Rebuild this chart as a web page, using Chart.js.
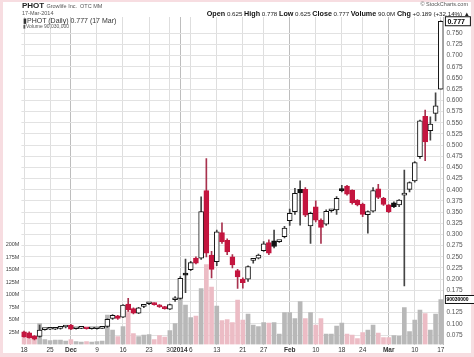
<!DOCTYPE html>
<html><head><meta charset="utf-8">
<script src="https://cdn.jsdelivr.net/npm/chart.js@4.4.1/dist/chart.umd.min.js"></script>
<style>
html,body{margin:0;padding:0;background:#f7dde1;}
#wrap{position:relative;width:474px;height:357px;overflow:hidden;}
#paper{position:absolute;left:3px;top:2px;width:468px;height:351px;background:#fff;}
canvas{position:absolute;left:0;top:0;}
.t{position:absolute;font-family:"Liberation Sans",Arial,sans-serif;white-space:nowrap;color:#222;line-height:1;}
.t b{font-weight:bold;color:#111;}
.s{color:#555;font-weight:normal;}
</style></head><body>
<div id="wrap">
<div id="paper"></div>
<canvas id="c" width="474" height="357"></canvas>
<div class="t" style="left:22px;top:2px;font-size:8px;font-weight:bold">PHOT <span class="s" style="font-size:5.5px">Growlife Inc.&nbsp; OTC MM</span></div>
<div class="t s" style="left:22px;top:11px;font-size:5.5px">17-Mar-2014</div>
<div class="t s" style="right:6px;top:2px;font-size:5.5px">© StockCharts.com</div>
<div class="t" id="hdr" style="right:4px;top:10px;font-size:6.2px"></div>
<div class="t" id="leg1" style="left:23px;top:17px;font-size:7px;color:#333"></div>
<div class="t" id="leg2" style="left:23px;top:24px;font-size:5px;color:#555"></div>
</div>
<script>
const dates = ["2013-11-18","2013-11-19","2013-11-20","2013-11-21","2013-11-22","2013-11-25","2013-11-26","2013-11-27","2013-11-29",
"2013-12-02","2013-12-03","2013-12-04","2013-12-05","2013-12-06","2013-12-09","2013-12-10","2013-12-11","2013-12-12","2013-12-13",
"2013-12-16","2013-12-17","2013-12-18","2013-12-19","2013-12-20","2013-12-23","2013-12-24","2013-12-26","2013-12-27","2013-12-30","2013-12-31",
"2014-01-02","2014-01-03","2014-01-06","2014-01-07","2014-01-08","2014-01-09","2014-01-10","2014-01-13","2014-01-14","2014-01-15","2014-01-16","2014-01-17",
"2014-01-21","2014-01-22","2014-01-23","2014-01-24","2014-01-27","2014-01-28","2014-01-29","2014-01-30","2014-01-31",
"2014-02-03","2014-02-04","2014-02-05","2014-02-06","2014-02-07","2014-02-10","2014-02-11","2014-02-12","2014-02-13","2014-02-14",
"2014-02-18","2014-02-19","2014-02-20","2014-02-21","2014-02-24","2014-02-25","2014-02-26","2014-02-27","2014-02-28",
"2014-03-03","2014-03-04","2014-03-05","2014-03-06","2014-03-07","2014-03-10","2014-03-11","2014-03-12","2014-03-13","2014-03-14","2014-03-17"];

const opens  = [0.082,0.080,0.073,0.072,0.087,0.088,0.088,0.090,0.093,0.097,0.089,0.090,0.090,0.089,0.089,0.090,0.094,0.112,0.118,0.115,
0.144,0.134,0.124,0.139,0.145,0.146,0.142,0.138,0.133,0.154,0.157,0.210,0.221,0.247,0.247,0.398,0.254,0.239,0.304,0.287,
0.250,0.219,0.200,0.200,0.242,0.247,0.264,0.282,0.286,0.284,0.295,0.331,0.351,0.401,0.401,0.319,0.362,0.332,0.323,0.353,
0.355,0.401,0.408,0.399,0.377,0.368,0.344,0.352,0.402,0.381,0.366,0.371,0.366,0.388,0.401,0.420,0.474,0.564,0.532,0.571,0.625];
const highs  = [0.084,0.082,0.074,0.097,0.089,0.089,0.090,0.093,0.095,0.099,0.091,0.091,0.090,0.090,0.092,0.092,0.111,0.121,0.119,0.143,
0.157,0.136,0.137,0.142,0.148,0.147,0.143,0.139,0.144,0.161,0.206,0.245,0.240,0.250,0.384,0.470,0.262,0.310,0.326,0.290,
0.255,0.222,0.203,0.230,0.246,0.256,0.284,0.288,0.310,0.286,0.318,0.357,0.403,0.420,0.405,0.350,0.375,0.335,0.355,0.356,
0.385,0.410,0.410,0.400,0.378,0.370,0.353,0.405,0.412,0.383,0.367,0.373,0.378,0.444,0.418,0.463,0.556,0.578,0.563,0.617,0.778];
const lows   = [0.070,0.068,0.064,0.070,0.086,0.087,0.087,0.088,0.091,0.087,0.088,0.089,0.088,0.088,0.088,0.090,0.092,0.110,0.110,0.114,
0.128,0.122,0.123,0.136,0.143,0.142,0.137,0.133,0.132,0.150,0.155,0.170,0.219,0.234,0.244,0.250,0.203,0.230,0.280,0.255,
0.225,0.179,0.180,0.195,0.236,0.245,0.262,0.255,0.270,0.282,0.292,0.320,0.345,0.321,0.340,0.280,0.328,0.280,0.320,0.350,
0.345,0.395,0.388,0.368,0.364,0.340,0.303,0.350,0.380,0.365,0.349,0.360,0.362,0.185,0.395,0.417,0.470,0.465,0.511,0.554,0.625];
const closes = [0.071,0.069,0.066,0.086,0.088,0.088,0.089,0.090,0.094,0.088,0.090,0.090,0.089,0.089,0.090,0.091,0.110,0.119,0.112,0.142,
0.131,0.124,0.136,0.140,0.146,0.143,0.138,0.134,0.143,0.155,0.202,0.209,0.237,0.236,0.351,0.258,0.222,0.306,0.284,0.261,
0.232,0.205,0.192,0.228,0.243,0.254,0.279,0.258,0.273,0.284,0.314,0.347,0.392,0.393,0.343,0.347,0.332,0.316,0.352,0.354,
0.381,0.398,0.390,0.371,0.366,0.345,0.351,0.398,0.383,0.367,0.351,0.362,0.377,0.392,0.416,0.461,0.554,0.507,0.547,0.588,0.777];
// volume in millions of shares
const volumes = [24,19,16,42,10,8,9,9,7,10,6,5,6,5,6,7,59,29,16,36,
66,22,16,19,20,10,18,15,28,42,94,79,54,57,112,160,115,77,48,50,
44,89,49,61,39,36,44,43,44,21,64,64,52,86,52,64,39,52,21,21,
37,43,21,19,12,24,29,39,23,14,14,18,17,74,26,49,69,62,29,61,90.03];

const priceTicks = [0.075,0.100,0.125,0.150,0.175,0.200,0.225,0.250,0.275,0.300,0.325,0.350,0.375,0.400,0.425,0.450,0.475,0.500,0.525,0.550,0.575,0.600,0.625,0.650,0.675,0.700,0.725,0.750];
const volumeTicks = [25,50,75,100,125,150,175,200];
const xTickDates = ["2013-11-18","2013-11-25","2013-12-02","2013-12-09","2013-12-16","2013-12-23","2013-12-30","2014-01-02","2014-01-06","2014-01-13","2014-01-21","2014-01-27","2014-02-03","2014-02-10","2014-02-18","2014-02-24","2014-03-03","2014-03-10","2014-03-17"];
const xTickTexts = ["18","25","Dec","9","16","23","30","2014","6","13","21","27","Feb","10","18","24","Mar","10","17"];
const boldTickTexts = ["Dec","2014","Feb","Mar"];

const FAM = '"Liberation Sans", Arial, sans-serif';
const RED = '#c4153f', BLK = '#111';
const last = closes.length - 1;
const isUp = closes.map((c,i) => i > 0 && c >= closes[i-1]);
const candleCol = isUp.map(u => u ? BLK : RED);
const wickCol = isUp.map(u => u ? '#444' : '#a8324e');
const bodyFill = closes.map((c,i) => c < opens[i] ? candleCol[i] : '#ffffff');
const volFill = isUp.map(u => u ? '#b8b8b8' : '#ecbcc5');

function tickText(i){ const k = xTickDates.indexOf(dates[i]); return k >= 0 ? xTickTexts[k] : ''; }
const prevClose = closes[last-1];
const chg = closes[last] - prevClose;
const L = s => '<b style="font-size:7.2px">' + s + '</b> ';
document.getElementById('hdr').innerHTML =
 L('Open') + opens[last].toFixed(3) + ' ' +
 L('High') + highs[last].toFixed(3) + ' ' +
 L('Low') + lows[last].toFixed(3) + ' ' +
 L('Close') + closes[last].toFixed(3) + ' ' +
 L('Volume') + volumes[last].toFixed(1) + 'M ' +
 L('Chg') + (chg>=0?'+':'') + chg.toFixed(3) + ' (' + (chg>=0?'+':'') + (chg/prevClose*100).toFixed(2) + '%) ▲';
document.getElementById('leg1').textContent = '▮PHOT (Daily) ' + closes[last].toFixed(3) + ' (17 Mar)';
const volFull = Math.round(volumes[last]*1e6).toLocaleString('en-US');
document.getElementById('leg2').textContent = '▮Volume ' + volFull;

const boxPlugin = {
  id: 'boxes',
  afterDraw(chart){
    const c = chart.ctx, ys = chart.scales.y, yv = chart.scales.yv;
    const x0 = chart.chartArea.right + 1.5;
    c.save();
    let py = ys.getPixelForValue(closes[last]);
    c.fillStyle = '#fff'; c.strokeStyle = '#111'; c.lineWidth = 1;
    c.fillRect(x0, py-5, 26, 10); c.strokeRect(x0+0.5, py-4.5, 25, 9);
    c.fillStyle = '#000'; c.font = 'bold 7px ' + FAM; c.textBaseline = 'middle'; c.textAlign = 'left';
    c.fillText(closes[last].toFixed(3), x0+2.5, py+0.5);
    let vy = yv.getPixelForValue(volumes[last]);
    c.fillStyle = '#fff'; c.fillRect(x0, vy-4.5, 30, 9); c.strokeRect(x0+0.5, vy-4, 30, 8);
    c.fillStyle = '#000'; c.font = 'bold 5px ' + FAM;
    c.fillText(String(Math.round(volumes[last]*1e6)), x0+1.5, vy+0.5);
    c.restore();
  }
};

new Chart(document.getElementById('c'), {
  type: 'bar',
  data: {
    labels: dates,
    datasets: [
      { label:'Volume', data: volumes, yAxisID:'yv', grouped:false, order:3, barThickness:4,
        backgroundColor: volFill, borderWidth:0 },
      { label:'Wick', data: lows.map((l,i)=>[l, highs[i]]), yAxisID:'y', grouped:false, order:2, barThickness:1,
        backgroundColor: wickCol, borderWidth:0 },
      { label:'Body', data: opens.map((o,i)=>[Math.min(o,closes[i]), Math.max(o,closes[i])]), yAxisID:'y', grouped:false, order:1,
        barThickness:5, minBarLength:2, backgroundColor: bodyFill, borderColor: candleCol, borderWidth:1, borderSkipped:false }
    ]
  },
  options: {
    responsive:false, devicePixelRatio:1, animation:false,
    layout:{ padding:{ top:17, left:0, right:0, bottom:0 } },
    plugins:{ legend:{display:false}, tooltip:{enabled:false} },
    scales:{
      x:{ offset:true,
        grid:{ offset:false, drawTicks:false, lineWidth:1,
          color: ctx => { const t = tickText(ctx.index); return t ? (boldTickTexts.includes(t) ? '#bdbdbd' : '#dedede') : 'rgba(0,0,0,0)'; } },
        border:{ display:false },
        ticks:{ autoSkip:false, maxRotation:0, minRotation:0, padding:2, color:'#333',
          font: ctx => ({ family:FAM, size:6.5, weight: boldTickTexts.includes(tickText(ctx.index)) ? 'bold' : 'normal' }),
          callback: (v,i) => tickText(i) },
        afterFit: s => { s.height = 12.5; } },
      y:{ position:'right', min:0.0538, max:0.7865,
        afterBuildTicks: s => { s.ticks = priceTicks.map(v => ({value:v})); },
        grid:{ color:'#e2e2e2', drawTicks:false },
        border:{ display:true, color:'#bbb' },
        ticks:{ padding:3, color:'#555', font:{ family:FAM, size:6.5 }, callback: v => Number(v).toFixed(3) },
        afterFit: s => { s.width = 30.6; } },
      yv:{ position:'left', min:0, max:655,
        afterBuildTicks: s => { s.ticks = volumeTicks.map(v => ({value:v})); },
        grid:{ display:false, drawTicks:false },
        border:{ display:false },
        ticks:{ padding:2, color:'#444', font:{ family:FAM, size:5.5 }, callback: v => v + 'M' },
        afterFit: s => { s.width = 21.4; } }
    }
  },
  plugins:[boxPlugin]
});
</script>
</body></html>
